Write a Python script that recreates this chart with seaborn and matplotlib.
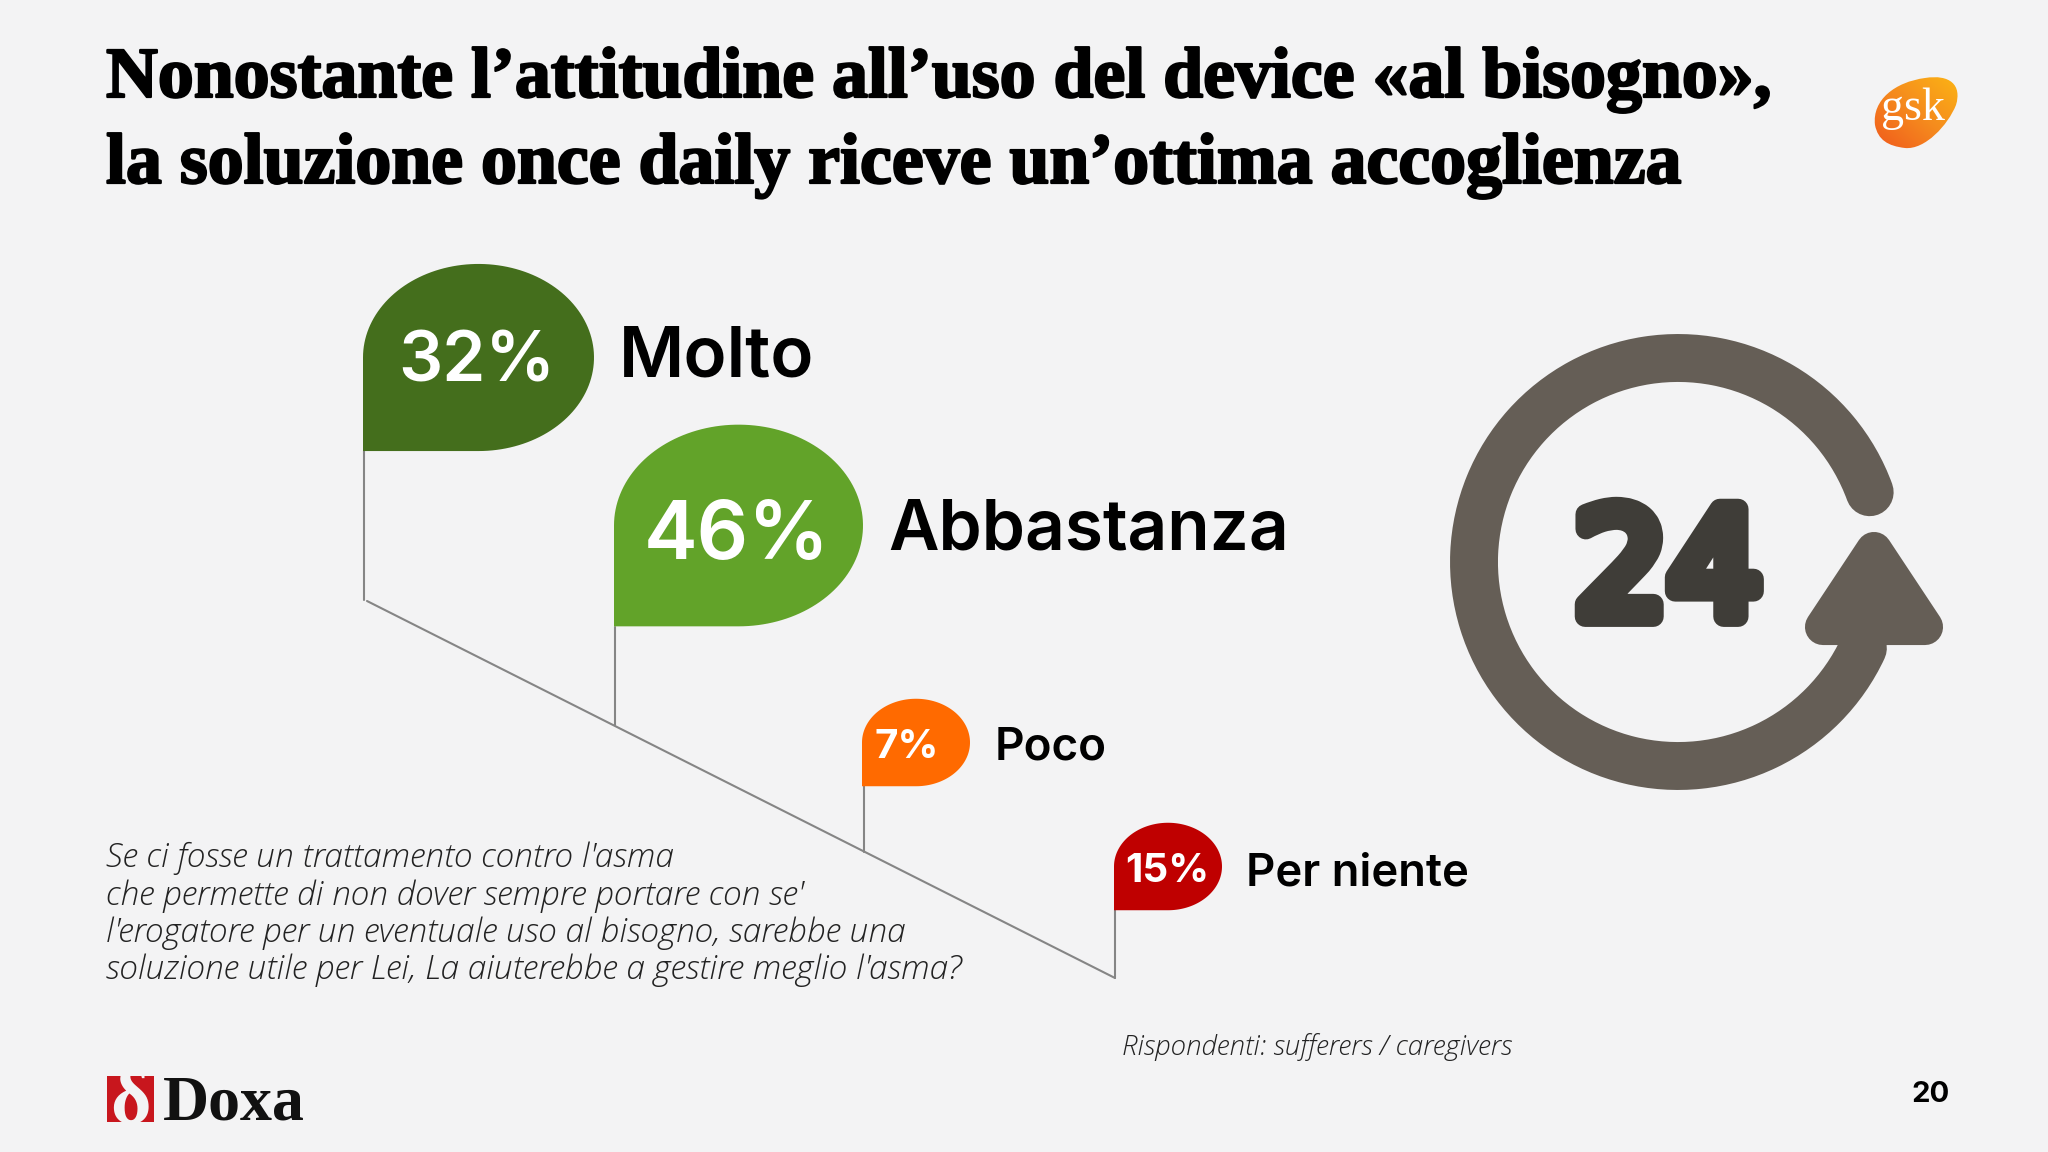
import numpy as np
import pandas as pd
import seaborn as sns
import matplotlib
matplotlib.use("Agg")
import matplotlib.pyplot as plt
from matplotlib.path import Path
from matplotlib.patches import Arc, Polygon, PathPatch, Rectangle
import matplotlib.patheffects as pe

# ---- data ----
categories = ["Molto", "Abbastanza", "Poco", "Per niente"]
percentages = [32, 46, 7, 15]
title_lines = ["Nonostante l’attitudine all’uso del device «al bisogno»,",
               "la soluzione once daily riceve un’ottima accoglienza"]
question_lines = ["Se ci fosse un trattamento contro l'asma",
                  "che permette di non dover sempre portare con se'",
                  "l'erogatore per un eventuale uso al bisogno, sarebbe una",
                  "soluzione utile per Lei, La aiuterebbe a gestire meglio l'asma?"]
respondents = "Rispondenti: sufferers / caregivers"
page_number = "20"

# ---- layout (pixels of the 2048x1152 slide) ----
BG = "#f3f3f4"
colors = ["#446e1c", "#62a329", "#ff6a00", "#bf0000"]
bubble_x = [478.5, 738.5, 916, 1168]
bubble_y = [357.5, 525.5, 742.5, 866.5]
bubble_w = [231, 249, 108, 108]
stem_x = [363.5, 614.5, 864, 1115]
stem_top = [451, 627, 786, 910]
stem_bot = [600, 725, 852, 978]
pct_x = [477, 737, 907, 1167]
pct_y = [363, 538, 748, 872]
pct_fs = [50, 58, 29, 29]
lab_x = [619, 888, 995, 1246]
lab_y = [358, 531, 748, 873]
lab_fs = [51, 50, 33, 32.7]

sns.set_theme(style="white")
plt.rcParams["font.family"] = ["Inter", "DejaVu Sans"]

fig = plt.figure(figsize=(20.48, 11.52), dpi=100, facecolor=BG)
ax = fig.add_axes([0, 0, 1, 1], facecolor=BG)

# teardrop marker: ellipse with a squared lower-left corner
A = 0.81
t = np.linspace(np.pi, -np.pi / 2, 120)
vx = np.cos(t)
vy = A * np.sin(t)
verts = np.column_stack([np.r_[vx, -1, -1], np.r_[vy, -A, 0]])
drop = Path(verts, closed=True)

# stems and baseline
df_lines = pd.DataFrame({
    "x": sum(([x, x] for x in stem_x), []),
    "y": sum(([a, b] for a, b in zip(stem_top, stem_bot)), []),
    "g": sum(([c, c] for c in categories), []),
})
sns.lineplot(data=df_lines, x="x", y="y", units="g", estimator=None, sort=False,
             color="#858585", linewidth=1.5, ax=ax, legend=False)
sns.lineplot(x=[367, 1115], y=[601, 978], estimator=None, sort=False,
             color="#858585", linewidth=1.5, ax=ax, legend=False)

# bubbles
df = pd.DataFrame({"cat": categories, "pct": percentages, "x": bubble_x, "y": bubble_y})
sizes = {c: (w * 0.72) ** 2 for c, w in zip(categories, bubble_w)}
sns.scatterplot(data=df, x="x", y="y", hue="cat", size="cat",
                palette=dict(zip(categories, colors)), sizes=sizes,
                marker=drop, linewidth=0, legend=False, ax=ax, zorder=3)

for i, (c, p) in enumerate(zip(categories, percentages)):
    ax.text(pct_x[i], pct_y[i], f"{p}%", color="white", fontsize=pct_fs[i],
            fontweight="bold" if i > 1 else "semibold", ha="center", va="center", zorder=4)
    ax.text(lab_x[i], lab_y[i], c, color="black", fontsize=lab_fs[i],
            fontweight="semibold", ha="left", va="center", zorder=4)

# title
for line, y in zip(title_lines, [97, 183]):
    ax.text(106, y, line, fontsize=51.7, fontweight="bold", color="black",
            family="Liberation Serif", ha="left", va="baseline",
            path_effects=[pe.withStroke(linewidth=1.6, foreground="black")])

# question
for line, y in zip(question_lines, [858, 896, 933, 970]):
    ax.text(106, y, line, fontsize=24.1, style="italic", fontweight="light",
            family="Open Sans", color="#222222", ha="left", va="center")
ax.text(1122, 1047, respondents, fontsize=20, style="italic", fontweight="light",
        family="Open Sans", color="#222222", ha="left", va="center")
ax.text(1950, 1095, page_number, fontsize=21, fontweight="bold", color="black",
        ha="right", va="center")

# 24h icon
RING = "#655e56"
ax.add_patch(Arc((1678, 562), 408, 408, theta1=25, theta2=340, angle=0,
                 lw=34.5, color=RING, capstyle="round", zorder=2))
ax.add_patch(Polygon([(1874, 550), (1823, 627), (1925, 627)], closed=True,
                     facecolor=RING, edgecolor=RING, lw=26, joinstyle="round", zorder=2))
ax.text(1668, 576, "24", fontsize=106, family="DejaVu Sans", color="#3f3d38",
        ha="center", va="center", zorder=3,
        path_effects=[pe.withStroke(linewidth=15, foreground="#3f3d38", capstyle="round", joinstyle="round")])

# gsk logo
blob = Path([(1875, 125), (1872, 100), (1895, 82), (1925, 78), (1950, 74), (1962, 85), (1956, 105),
             (1948, 125), (1925, 150), (1905, 148), (1888, 146), (1878, 140), (1875, 125), (1875, 125)],
            [Path.MOVETO] + [Path.CURVE4] * 12 + [Path.CLOSEPOLY])
gx, gy = np.meshgrid(np.linspace(0, 1, 80), np.linspace(0, 1, 80))
grad = (gx + (1 - gy)) / 2
cmap = matplotlib.colors.LinearSegmentedColormap.from_list("gsk", ["#f0561c", "#f58a1e", "#fcb514"])
im = ax.imshow(grad, extent=(1870, 1960, 150, 75), cmap=cmap, aspect="auto", zorder=2, origin="upper")
clip = PathPatch(blob, transform=ax.transData, facecolor="none", edgecolor="none")
ax.add_patch(clip)
im.set_clip_path(clip)
ax.text(1913, 109, "gsk", fontsize=33, family="Liberation Serif", color="white",
        ha="center", va="center", zorder=3)

# Doxa logo
sq = Rectangle((107, 1076), 47, 46, facecolor="#c8161d", edgecolor="none", zorder=2)
ax.add_patch(sq)
d = ax.text(130.5, 1104, "δ", fontsize=56, family="Liberation Serif", fontweight="bold", color="#f3f3f4",
            ha="center", va="center", zorder=3)
d.set_clip_path(sq)
ax.text(163, 1120, "Doxa", fontsize=46, family="Liberation Serif", fontweight="bold",
        color="#111111", ha="left", va="baseline", zorder=3)

ax.set_xlim(0, 2048)
ax.set_ylim(1152, 0)
ax.set_xlabel("")
ax.set_ylabel("")
ax.axis("off")
fig.savefig("out.png", dpi=100, facecolor=BG)
